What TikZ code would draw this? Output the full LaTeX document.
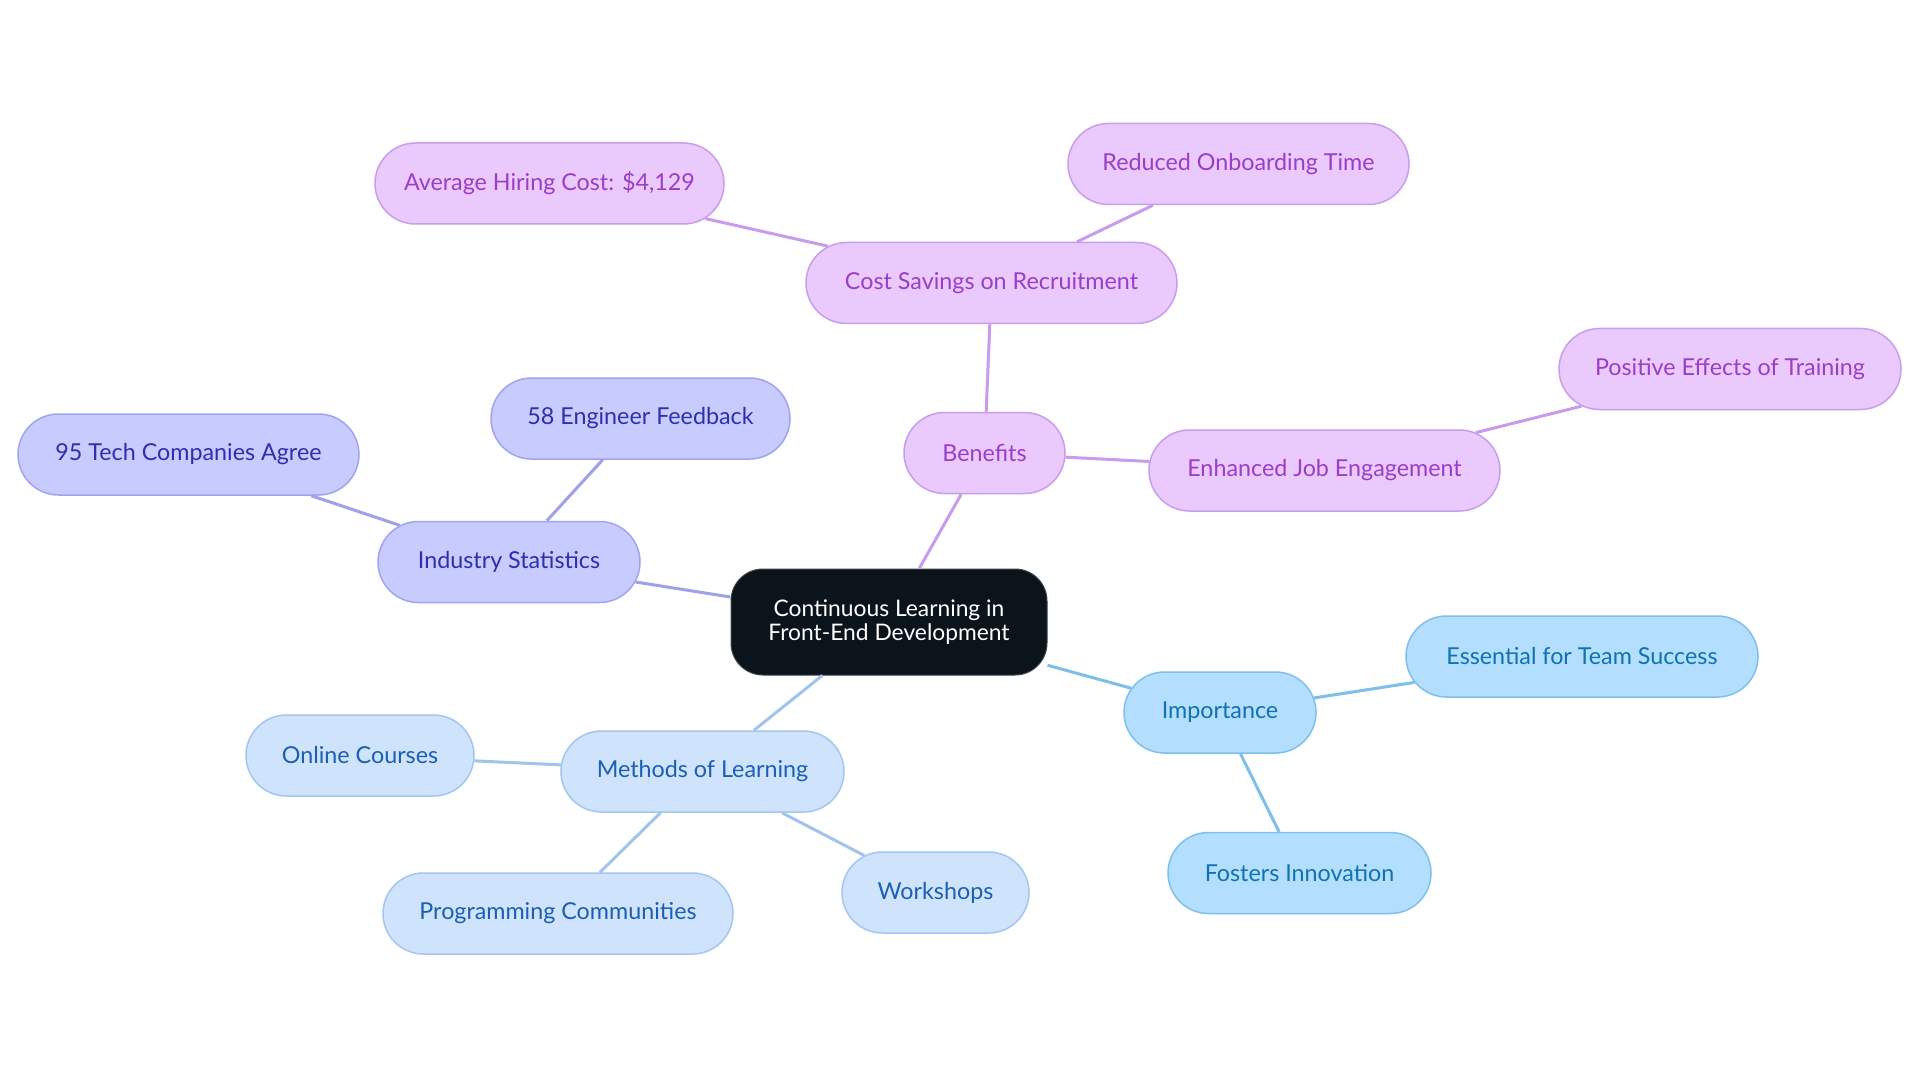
\documentclass[tikz,border=0pt]{standalone}
\usepackage{fontspec}
\setmainfont{Lato}
\usetikzlibrary{shapes.misc}
\definecolor{pfill}{HTML}{EAC9FD}
\definecolor{pdraw}{HTML}{C99DEB}
\definecolor{ptext}{HTML}{9A3DC9}
\definecolor{pline}{HTML}{C99BEE}
\definecolor{ifill}{HTML}{C8CBFE}
\definecolor{idraw}{HTML}{A0A4EE}
\definecolor{itext}{HTML}{2D2FB0}
\definecolor{iline}{HTML}{9FA1E8}
\definecolor{mfill}{HTML}{CFE4FC}
\definecolor{mdraw}{HTML}{A2C6EE}
\definecolor{mtext}{HTML}{1B5FB5}
\definecolor{mline}{HTML}{A0C4EC}
\definecolor{sfill}{HTML}{B4DEFD}
\definecolor{sdraw}{HTML}{7EC0EB}
\definecolor{stext}{HTML}{0E72B4}
\definecolor{sline}{HTML}{7DBFEA}
\definecolor{cfill}{HTML}{0B131B}
\tikzset{
  pill/.style={rounded rectangle, minimum height=81pt, inner sep=0pt, line width=1.5pt,
    font=\fontsize{23.3}{25}\selectfont},
  pnode/.style={pill, fill=pfill, draw=pdraw, text=ptext},
  inode/.style={pill, fill=ifill, draw=idraw, text=itext},
  mnode/.style={pill, fill=mfill, draw=mdraw, text=mtext},
  snode/.style={pill, fill=sfill, draw=sdraw, text=stext},
  cnode/.style={rectangle, rounded corners=32pt, minimum width=316pt, minimum height=106pt,
    inner sep=0pt, fill=cfill, draw=cfill!80!white, line width=1pt, text=white, align=center,
    font=\fontsize{22.8}{24.5}\selectfont},
  pedge/.style={draw=pline, line width=3pt},
  iedge/.style={draw=iline, line width=3pt},
  medge/.style={draw=mline, line width=3pt},
  sedge/.style={draw=sline, line width=3pt},
}
\begin{document}
\begin{tikzpicture}[x=1pt,y=-1pt]
\useasboundingbox[fill=white] (0,0) rectangle (1920,1083);
% nodes
\node[cnode] (center) at (889,622) {Continuous Learning in\\Front-End Development};
\node[pnode, minimum width=161pt] (benefits) at (984.5,453) {Benefits};
\node[pnode, minimum width=371pt] (cost) at (991.5,283) {Cost Savings on Recruitment};
\node[pnode, minimum width=349pt] (avg) at (549.5,183.5) {Average Hiring Cost: \$4,129};
\node[pnode, minimum width=341pt] (reduced) at (1238.5,164) {Reduced Onboarding Time};
\node[pnode, minimum width=351pt] (enhanced) at (1324.5,470.5) {Enhanced Job Engagement};
\node[pnode, minimum width=342pt] (positive) at (1730,369) {Positive Effects of Training};
\node[inode, minimum width=262pt] (industry) at (509,562) {Industry Statistics};
\node[inode, minimum width=299pt] (feedback) at (640.5,418.5) {58 Engineer Feedback};
\node[inode, minimum width=341pt] (tech) at (188.5,454.5) {95 Tech Companies Agree};
\node[snode, minimum width=192pt] (importance) at (1220,712.5) {Importance};
\node[snode, minimum width=352pt] (essential) at (1582,656.5) {Essential for Team Success};
\node[snode, minimum width=263pt] (fosters) at (1299.5,873) {Fosters Innovation};
\node[mnode, minimum width=283pt] (methods) at (702.5,771.5) {Methods of Learning};
\node[mnode, minimum width=228pt] (online) at (360,755.5) {Online Courses};
\node[mnode, minimum width=350pt] (programming) at (558,913.5) {Programming Communities};
\node[mnode, minimum width=187pt] (workshops) at (935.5,892.5) {Workshops};
% edges
\path[pedge] (center) -- (benefits);
\path[pedge] (benefits) -- (cost);
\path[pedge] (cost) -- (avg);
\path[pedge] (cost) -- (reduced);
\path[pedge] (benefits) -- (enhanced);
\path[pedge] (enhanced) -- (positive);
\path[iedge] (center) -- (industry);
\path[iedge] (industry) -- (feedback);
\path[iedge] (industry) -- (tech);
\path[sedge] (center) -- (importance);
\path[sedge] (importance) -- (essential);
\path[sedge] (importance) -- (fosters);
\path[medge] (center) -- (methods);
\path[medge] (methods) -- (online);
\path[medge] (methods) -- (programming);
\path[medge] (methods) -- (workshops);
\end{tikzpicture}
\end{document}
